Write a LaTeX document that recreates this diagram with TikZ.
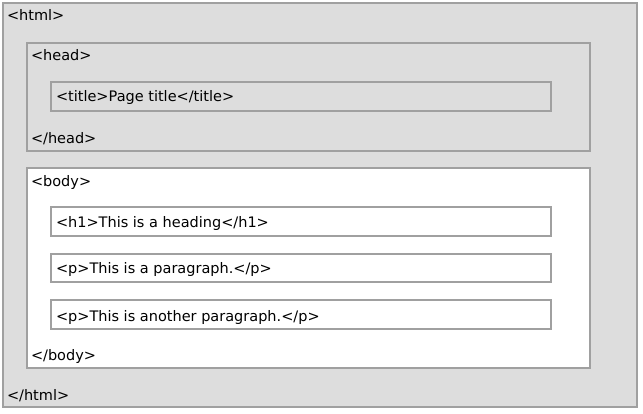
\documentclass[tikz,border=0pt]{standalone}
\usepackage{fontspec}
\setmainfont{DejaVu Sans}
\definecolor{boxgray}{HTML}{DDDDDD}
\definecolor{linegray}{HTML}{A0A0A0}
\begin{document}
\begin{tikzpicture}[x=1pt,y=-1pt,
  box/.style={draw=linegray,line width=1.3pt,anchor=north west,inner sep=0pt,outer sep=0pt},
  graybox/.style={box,fill=boxgray},
  whitebox/.style={box,fill=white},
  tag/.style={anchor=base west,inner sep=0pt,font=\fontsize{14.5}{17}\selectfont,text=black}]
\useasboundingbox (0,0) rectangle (643,413);
\node[graybox,minimum width=634pt,minimum height=404pt] (html) at (3,3) {};
\node[graybox,minimum width=563pt,minimum height=108pt] (head) at (27,43) {};
\node[graybox,minimum width=500pt,minimum height=29pt] (title) at (51,82) {};
\node[whitebox,minimum width=563pt,minimum height=200pt] (body) at (27,168) {};
\node[whitebox,minimum width=500pt,minimum height=29pt] (h1) at (51,207) {};
\node[whitebox,minimum width=500pt,minimum height=28pt] (p1) at (51,254) {};
\node[whitebox,minimum width=500pt,minimum height=29pt] (p2) at (51,300) {};
\node[tag] (thtml) at (6.8,20.7) {<html>};
\node[tag] (thead) at (30.8,60.7) {<head>};
\node[tag] (ttitle) at (55.8,101.7) {<title>Page title</title>};
\node[tag] (tehead) at (30.8,143.3) {</head>};
\node[tag] (tbody) at (30.8,186) {<body>};
\node[tag] (th1) at (55.8,227) {<h1>This is a heading</h1>};
\node[tag] (tp1) at (55.8,273) {<p>This is a paragraph.</p>};
\node[tag] (tp2) at (55.8,321) {<p>This is another paragraph.</p>};
\node[tag] (tebody) at (30.8,360) {</body>};
\node[tag] (tehtml) at (6.8,400) {</html>};
\end{tikzpicture}
\end{document}
